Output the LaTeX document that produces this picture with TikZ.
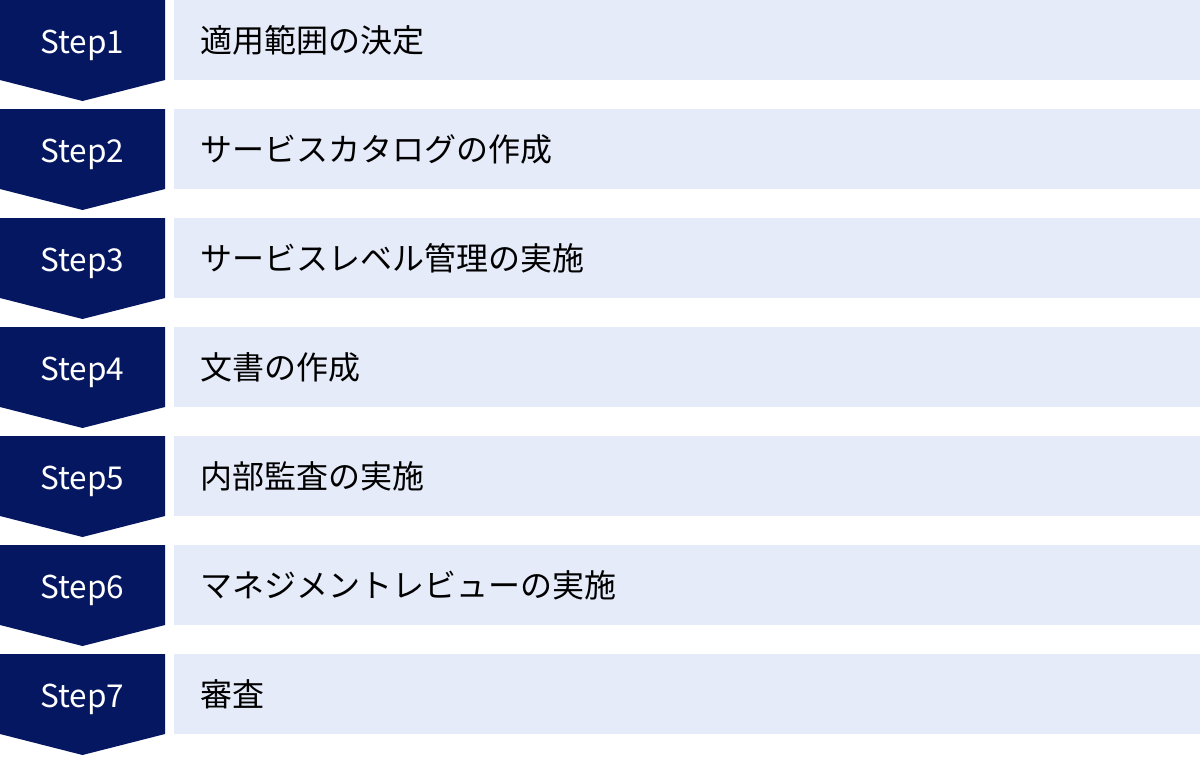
\documentclass[tikz,border=0pt]{standalone}
\usepackage{fontspec}
\newfontfamily\jp{Noto Sans CJK JP}
\definecolor{navy}{RGB}{5,23,96}
\definecolor{pale}{RGB}{230,235,249}
\begin{document}
\begin{tikzpicture}[x=1pt,y=-1pt,
  stepshape/.style={fill=navy,draw=none},
  steplabel/.style={text=white,font=\jp\fontsize{31.5}{36}\selectfont,anchor=base,inner sep=0pt},
  bar/.style={fill=pale,draw=none},
  bartext/.style={text=black,font=\jp\fontsize{32}{36}\selectfont,anchor=west,inner sep=0pt}]
\useasboundingbox (0,0) rectangle (1200,756);
\foreach \i/\t in {1/適用範囲の決定,2/サービスカタログの作成,3/サービスレベル管理の実施,4/文書の作成,5/内部監査の実施,6/マネジメントレビューの実施,7/審査}{
  \pgfmathsetmacro{\y}{(\i-1)*109}
  \fill[stepshape] (0,\y) -- (165,\y) -- (165,\y+80) -- (82.5,\y+101) -- (0,\y+80) -- cycle;
  \fill[bar] (174,\y) rectangle (1200,\y+80);
  \node[steplabel] (s\i) at (82.5,\y+53.5) {Step\i};
  \node[bartext] (t\i) at (200,\y+40) {\t};
}
\end{tikzpicture}
\end{document}
